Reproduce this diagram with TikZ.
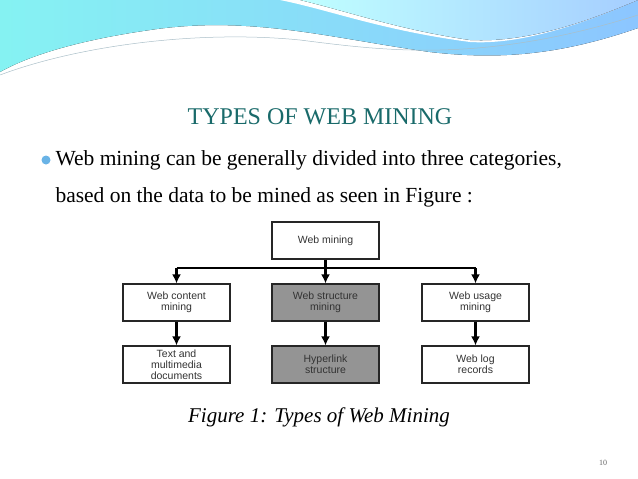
\documentclass[tikz,border=0pt]{standalone}
\usepackage{fontspec}
\setmainfont{Liberation Serif}
\newfontfamily\arialf{Liberation Sans}
\usetikzlibrary{arrows.meta}
\begin{document}
\begin{tikzpicture}[x=1pt,y=-1pt,
 bx/.style={draw=black!85,line width=1.2pt,minimum width=107pt,minimum height=37pt,align=center,font=\arialf\fontsize{10.5}{11}\selectfont,text=black!80,inner sep=1pt},
 gbx/.style={bx,fill=black!42},
 ar/.style={-{Latex[length=9pt,width=9pt]},line width=2.5pt}]
\useasboundingbox (0,0) rectangle (638,479);
% wave
\fill[left color=cyan!45!white!95!black, right color=cyan!50!blue!45!white] (0,0) -- (638,0) -- (638,28) .. controls (560,55) and (500,60) .. (430,52) .. controls (330,38) and (250,15) .. (150,30) .. controls (80,40) and (30,55) .. (0,72) -- cycle;
\fill[white] (280,0) .. controls (330,10) and (380,30) .. (470,42) .. controls (520,45) and (580,25) .. (638,0) -- cycle;
\fill[left color=cyan!25!white, right color=cyan!45!blue!35!white] (300,0) .. controls (350,12) and (400,30) .. (470,40) .. controls (530,43) and (590,20) .. (638,0) -- cycle;
\draw[cyan!40!black!40,line width=0.5pt] (0,75) .. controls (80,45) and (200,30) .. (300,40) .. controls (380,50) and (480,65) .. (638,15);
% title & text
\node[text=teal!70!black!90,font=\fontsize{24}{28}\selectfont] (title) at (320,117) {TYPES OF WEB MINING};
\fill[cyan!75!blue!60] (46,160) circle (4.5pt);
\node[anchor=west,font=\fontsize{21.5}{26}\selectfont] (l1) at (52,160) {Web mining can be generally divided into three categories,};
\node[anchor=west,font=\fontsize{21.5}{26}\selectfont] (l2) at (52,197) {based on the data to be mined as seen in Figure :};
% figure
\fill[white] (75,215) rectangle (552,392);
\node[bx] (wm) at (325.5,240.5) {Web mining};
\node[bx] (wc) at (176.5,302.5) {Web content\\mining};
\node[gbx] (ws) at (325.5,302.5) {Web structure\\mining};
\node[bx] (wu) at (475.5,302.5) {Web usage\\mining};
\node[bx] (tm) at (176.5,364.5) {Text and\\multimedia\\documents};
\node[gbx] (hs) at (325.5,364.5) {Hyperlink\\structure};
\node[bx] (wl) at (475.5,364.5) {Web log\\records};
\coordinate (j) at (325.5,268);
\draw[line width=2.5pt] (wm.south) -- (j);
\draw[line width=2pt] (wc.north |- j) -- (wu.north |- j);
\draw[ar] (j) -- (ws.north);
\draw[ar] (wc.north |- j) -- (wc.north);
\draw[ar] (wu.north |- j) -- (wu.north);
\draw[ar] (wc) -- (tm);
\draw[ar] (ws) -- (hs);
\draw[ar] (wu) -- (wl);
\node[font=\itshape\fontsize{21}{26}\selectfont] (cap) at (319,417) {Figure 1: Types of Web Mining};
\node[text=black!60,font=\fontsize{8}{9}\selectfont] (pg) at (603,463) {10};
\end{tikzpicture}
\end{document}
